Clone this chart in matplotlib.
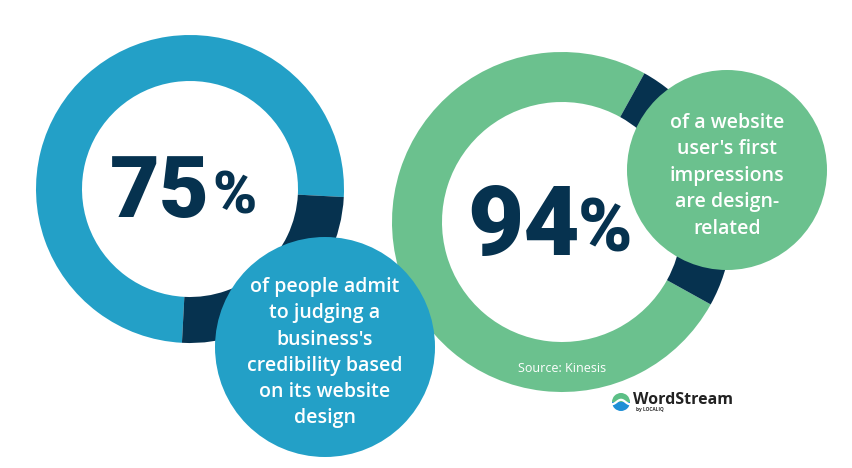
import matplotlib
matplotlib.use("Agg")
import matplotlib.pyplot as plt
from matplotlib.patches import Circle, Wedge
import numpy as np

# ---- data ----
stat_labels = ["75", "94"]
ring_shares_left = [75, 25]     # visible ring split (light, dark)
ring_shares_right = [75, 25]
left_lines = ["of people admit", "to judging a", "business's",
              "credibility based", "on its website", "design"]
right_lines = ["of a website", "user's first", "impressions",
               "are design-", "related"]
source_text = "Source: Kinesis"
brand = "WordStream"
brand_sub = "by LOCALIQ"

BLUE = "#23a0c7"
NAVY = "#06324f"
GREEN = "#6bc18e"
W, H = 852, 468

fig = plt.figure(figsize=(W / 100, H / 100), dpi=100)
ax = fig.add_axes([0, 0, 1, 1])

def Y(y):
    return H - y

# left donut
ax.pie(ring_shares_left, colors=[BLUE, NAVY], startangle=-3, counterclock=True,
       center=(190, Y(189)), radius=154,
       wedgeprops=dict(width=46, linewidth=0), frame=True)
# right donut
ax.pie(ring_shares_right, colors=[GREEN, NAVY], startangle=61, counterclock=True,
       center=(562, Y(222)), radius=170,
       wedgeprops=dict(width=50, linewidth=0), frame=True)

# bubbles
ax.add_patch(Circle((727, Y(170)), 100, color=GREEN, lw=0, zorder=5))
ax.add_patch(Circle((325, Y(347)), 110, color=BLUE, lw=0, zorder=6))

# big numbers
numfont = dict(family=["Roboto", "DejaVu Sans"], weight="black", style="normal", color=NAVY)
ax.text(210, Y(217), stat_labels[0], ha="right", va="baseline", fontsize=62, zorder=7, **numfont)
ax.text(212, Y(213), "%", ha="left", va="baseline", fontsize=43, zorder=7, **numfont)
ax.text(580, Y(255), stat_labels[1], ha="right", va="baseline", fontsize=70, zorder=7, **numfont)
ax.text(578, Y(252), "%", ha="left", va="baseline", fontsize=53, zorder=7, **numfont)

bodyfont = dict(family=["Open Sans", "DejaVu Sans"], color="white", weight="semibold")
for i, t in enumerate(left_lines):
    ax.text(325, Y(287 + 26.3 * i), t, ha="center", va="center", fontsize=14, zorder=8, **bodyfont)
for i, t in enumerate(right_lines):
    ax.text(727, Y(123 + 26.5 * i), t, ha="center", va="center", fontsize=14, zorder=8, **bodyfont)

ax.text(562, Y(368), source_text, ha="center", va="center", fontsize=9, zorder=8,
        family=["Open Sans", "DejaVu Sans"], color="white")

# logo
cx, cy, r = 621, Y(402), 9
ax.add_patch(Wedge((cx, cy), r, 0, 180, color="#5cbf86", lw=0, zorder=8))
ax.add_patch(Wedge((cx, cy), r, 180, 360, color="#1f8fd6", lw=0, zorder=8))
xs = np.linspace(cx - r, cx + r, 30)
ax.plot(xs, cy + 2.2 * np.cos((xs - cx) / r * np.pi), color="white", lw=1.6, zorder=9)
ax.text(633, Y(400), brand, ha="left", va="center", fontsize=11.5, weight="bold",
        family=["Open Sans", "DejaVu Sans"], color="#222222", zorder=9)
ax.text(636, Y(410), brand_sub, ha="left", va="center", fontsize=3.5, weight="bold",
        family=["Open Sans", "DejaVu Sans"], color="#333333", zorder=9)

ax.set_xlim(0, W)
ax.set_ylim(0, H)
ax.set_aspect("equal")
ax.axis("off")
fig.savefig("out.png", dpi=100, facecolor="white")
